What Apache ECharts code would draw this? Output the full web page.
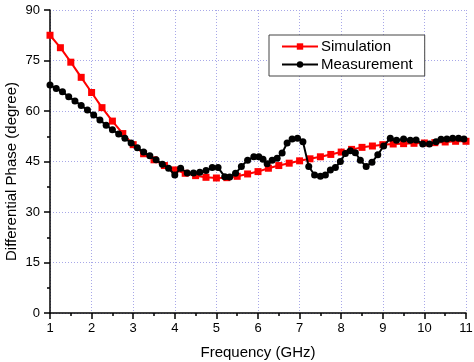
<!DOCTYPE html>
<html>
<head>
<meta charset="utf-8">
<script src="https://cdn.jsdelivr.net/npm/echarts@6/dist/echarts.min.js"></script>
<style>html,body{margin:0;padding:0;background:#fff}#c{width:474px;height:362px}</style>
</head>
<body>
<div id="c"></div>
<script>
var simFreq = [1,1.25,1.5,1.75,2,2.25,2.5,2.75,3,3.25,3.5,3.75,4,4.25,4.5,4.75,5,5.25,5.5,5.75,6,6.25,6.5,6.75,7,7.25,7.5,7.75,8,8.25,8.5,8.75,9,9.25,9.5,9.75,10,10.25,10.5,10.75,11];
var simPhase = [82.5,78.8,74.5,70,65.5,61,57,53.3,50,47.3,45.5,43.8,42.5,41.5,40.8,40.3,40.1,40.2,40.6,41.3,42,43,43.8,44.5,45.2,45.8,46.4,47.1,47.8,48.6,49.2,49.6,50,50.2,50.3,50.4,50.5,50.6,50.8,51,51];
var measFreq = [1,1.15,1.3,1.45,1.6,1.75,1.9,2.05,2.2,2.35,2.5,2.65,2.8,2.95,3.1,3.25,3.4,3.55,3.7,3.85,4,4.14,4.3,4.45,4.6,4.75,4.9,5.04,5.2,5.32,5.46,5.6,5.75,5.9,6.02,6.12,6.22,6.34,6.46,6.58,6.7,6.82,6.95,7.08,7.22,7.36,7.5,7.62,7.74,7.86,7.98,8.1,8.22,8.34,8.46,8.6,8.74,8.88,9.02,9.18,9.33,9.5,9.66,9.8,9.96,10.12,10.28,10.4,10.54,10.68,10.82,10.95];
var measPhase = [67.7,66.7,65.7,64.2,63,61.6,60.3,58.8,57.3,55.8,54.4,53.2,51.9,50.5,49.1,47.8,46.7,45.5,44.2,43,41,43,41.6,41.6,41.8,42.3,43.2,43.2,40.5,40.4,41.5,43.5,45.4,46.4,46.4,45.7,44.3,45.4,46,47.5,50.5,51.7,51.9,50.9,43.5,41,40.6,41,42.5,43.2,45,47.4,48.2,47.6,45.4,43.5,44.8,47,49.6,51.9,51.3,51.7,51.3,51.4,50.2,50.2,50.9,51.6,51.7,51.9,51.9,51.7];
var xTicks = [1,2,3,4,5,6,7,8,9,10,11];
var yTicks = [0,15,30,45,60,75,90];

function pairs(xs, ys){ return xs.map(function(x,i){ return [x, ys[i]]; }); }

var font = 'Arial, "Liberation Sans", sans-serif';
var chart = echarts.init(document.getElementById('c'));
chart.setOption({
  animation: false,
  backgroundColor: '#fff',
  grid: {left: 50, right: 8, top: 10, bottom: 49, containLabel: false, outerBoundsMode: 'none'},
  legend: {
    orient: 'vertical', left: 269, top: 35, width: 158,
    padding: [4, 12, 4, 12],
    itemGap: 3, itemWidth: 36, itemHeight: 8,
    borderColor: '#444', borderWidth: 1, backgroundColor: '#fff',
    textStyle: {fontFamily: font, fontSize: 15, color: '#000', padding: [0, 0, 0, -2]},
    data: ['Simulation', 'Measurement']
  },
  xAxis: {
    type: 'value', min: xTicks[0], max: xTicks[xTicks.length-1], interval: 1,
    name: 'Frequency (GHz)', nameLocation: 'middle', nameGap: 32, nameMoveOverlap: false,
    nameTextStyle: {fontFamily: font, fontSize: 15, color: '#000'},
    axisLine: {show: true, lineStyle: {color: '#000', width: 1.5}},
    axisTick: {show: true, inside: false, length: 6, lineStyle: {color: '#000', width: 1.5}},
    minorTick: {show: true, splitNumber: 2, length: 3, lineStyle: {color: '#000', width: 1.5}},
    axisLabel: {fontFamily: font, fontSize: 13, color: '#000', margin: 9},
    splitLine: {show: true, lineStyle: {color: '#a8a8e8', type: [1, 2], width: 1}}
  },
  yAxis: {
    type: 'value', min: yTicks[0], max: yTicks[yTicks.length-1], interval: 15,
    name: 'Differential Phase (degree)', nameLocation: 'middle', nameGap: 31, nameMoveOverlap: false,
    nameTextStyle: {fontFamily: font, fontSize: 15, color: '#000', padding: [0, 20, 0, 0]},
    axisLine: {show: true, lineStyle: {color: '#000', width: 1.5}},
    axisTick: {show: true, inside: false, length: 6, lineStyle: {color: '#000', width: 1.5}},
    minorTick: {show: true, splitNumber: 2, length: 3, lineStyle: {color: '#000', width: 1.5}},
    axisLabel: {fontFamily: font, fontSize: 13, color: '#000', margin: 10},
    splitLine: {show: true, lineStyle: {color: '#a8a8e8', type: [1, 2], width: 1}}
  },
  series: [
    {
      name: 'Simulation', type: 'line', data: pairs(simFreq, simPhase),
      symbol: 'rect', symbolSize: 7,
      lineStyle: {color: '#ff0000', width: 2},
      itemStyle: {color: '#ff0000'}, z: 2
    },
    {
      name: 'Measurement', type: 'line', data: pairs(measFreq, measPhase),
      symbol: 'circle', symbolSize: 7,
      lineStyle: {color: '#000', width: 2},
      itemStyle: {color: '#000'}, z: 3
    }
  ]
});
</script>
</body>
</html>
